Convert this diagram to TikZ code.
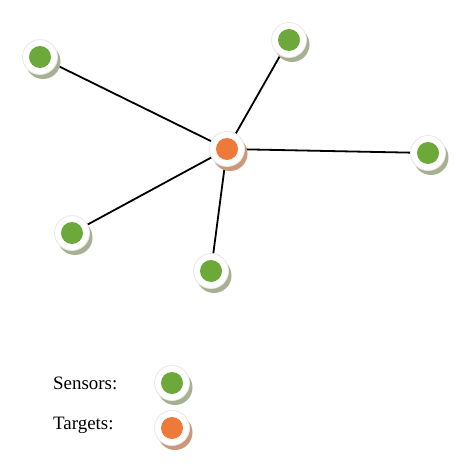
\documentclass[tikz,border=0pt]{standalone}
\usepackage{fontspec}
\setmainfont{Liberation Serif}
\usetikzlibrary{shadows,backgrounds}
\definecolor{sgreen}{RGB}{108,168,58}
\definecolor{torange}{RGB}{238,122,58}
\definecolor{sshadow}{RGB}{168,176,146}
\definecolor{tshadow}{RGB}{204,152,120}
\definecolor{ringgray}{RGB}{232,232,232}
\tikzset{
  disc/.style={circle, inner sep=0pt, minimum size=35bp, fill=white, draw=ringgray, line width=0.8bp},
  sensor/.style={disc, drop shadow={shadow xshift=3bp, shadow yshift=-4.5bp, fill=sshadow, opacity=1},
    path picture={\fill[sgreen] (path picture bounding box.center) circle (11bp);}},
  target/.style={disc, drop shadow={shadow xshift=3bp, shadow yshift=-4.5bp, fill=tshadow, opacity=1},
    path picture={\fill[torange] (path picture bounding box.center) circle (11bp);}},
  link/.style={draw=black, line width=1.8bp},
  legend/.style={anchor=west, inner sep=0pt, font=\fontsize{19}{21}\selectfont}
}
\begin{document}
\begin{tikzpicture}[x=1bp,y=-1bp]
\useasboundingbox (0,0) rectangle (474,474);
\node[target] (c) at (227,149) {};
\node[sensor] (s1) at (40,57) {};
\node[sensor] (s2) at (289,40) {};
\node[sensor] (s3) at (428,153) {};
\node[sensor] (s4) at (72,233) {};
\node[sensor] (s5) at (211,271) {};
\begin{scope}[on background layer]
\draw[link] (c.center) -- (s1.center);
\draw[link] (c.center) -- (s2.center);
\draw[link] (c.center) -- (s3.center);
\draw[link] (c.center) -- (s4.center);
\draw[link] (c.center) -- (s5.center);
\end{scope}
\node[legend] (ls) at (53,383) {Sensors:};
\node[legend] (lt) at (53,425) {Targets:};
\node[sensor] (ks) at (172,383) {};
\node[target] (kt) at (172,428) {};
\end{tikzpicture}
\end{document}
